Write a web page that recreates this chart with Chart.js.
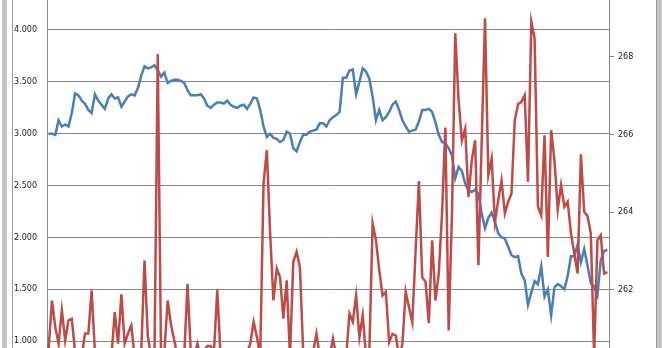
<!DOCTYPE html>
<html>
<head>
<meta charset="utf-8">
<script src="https://cdn.jsdelivr.net/npm/chart.js@4/dist/chart.umd.min.js"></script>
<style>
  html, body { margin: 0; padding: 0; background: #fff; overflow: hidden; }
  #wrap { position: relative; width: 662px; height: 348px; }
  canvas { position: absolute; left: 0; top: 0; }
  .frame { position: absolute; top: 0; height: 348px; }
</style>
</head>
<body>
<div id="wrap">
  <canvas id="chart" width="662" height="348"></canvas>
  <div class="frame" style="left:2px;width:5px;background:#c4c4c4"></div>
  <div class="frame" style="left:12px;width:1px;background:#9a9a9a"></div>
  <div class="frame" style="left:656px;width:1px;background:#9a9a9a"></div>
  <div class="frame" style="left:657px;width:5px;background:#c4c4c4"></div>
</div>
<script>
// series on the left axis (blue)
const blueValues = [
  3.00, 3.00, 2.99, 3.13, 3.07, 3.09, 3.07, 3.20, 3.39, 3.37,
  3.32, 3.29, 3.23, 3.20, 3.38, 3.32, 3.28, 3.24, 3.34, 3.38,
  3.34, 3.35, 3.26, 3.31, 3.36, 3.38, 3.37, 3.44, 3.56, 3.65,
  3.63, 3.64, 3.66, 3.61, 3.55, 3.59, 3.49, 3.51, 3.52, 3.52,
  3.51, 3.49, 3.42, 3.37, 3.37, 3.37, 3.38, 3.34, 3.27, 3.25,
  3.28, 3.30, 3.30, 3.29, 3.32, 3.28, 3.26, 3.25, 3.27, 3.28,
  3.24, 3.29, 3.35, 3.34, 3.23, 3.07, 2.97, 3.00, 2.96, 2.95,
  2.92, 2.94, 3.02, 3.00, 2.86, 2.83, 2.92, 2.99, 2.99, 3.02,
  3.03, 3.04, 3.10, 3.10, 3.07, 3.13, 3.16, 3.18, 3.21, 3.54,
  3.54, 3.61, 3.62, 3.38, 3.50, 3.63, 3.60, 3.53, 3.36, 3.13,
  3.23, 3.13, 3.16, 3.21, 3.28, 3.31, 3.23, 3.13, 3.07, 3.02,
  3.03, 3.04, 3.12, 3.23, 3.23, 3.24, 3.21, 3.11, 2.99, 2.92,
  2.91, 2.86, 2.79, 2.57, 2.68, 2.64, 2.52, 2.45, 2.44, 2.46,
  2.42, 2.23, 2.09, 2.19, 2.24, 2.15, 2.04, 2.00, 1.99, 1.91,
  1.83, 1.81, 1.82, 1.65, 1.59, 1.35, 1.47, 1.58, 1.55, 1.72,
  1.43, 1.50, 1.25, 1.52, 1.55, 1.53, 1.50, 1.63, 1.82, 1.82,
  1.93, 1.76, 1.89, 1.73, 1.56, 1.53, 1.44, 1.78, 1.87, 1.88
];

// series on the right axis (red)
const redValues = [
  260.50, 261.73, 261.05, 260.62, 261.48, 260.70, 261.22, 261.26, 260.40, 260.20,
  260.30, 260.88, 260.88, 261.99, 260.40, 260.20, 260.30, 260.20, 260.40, 260.30,
  261.43, 260.62, 261.89, 260.62, 260.88, 261.09, 260.30, 260.20, 260.40, 262.76,
  260.81, 260.30, 260.20, 268.07, 260.30, 260.40, 261.73, 261.11, 260.70, 260.30,
  260.20, 260.30, 262.16, 260.40, 260.30, 260.62, 260.30, 260.45, 260.56, 260.56,
  260.40, 262.01, 260.30, 260.30, 260.20, 260.20, 260.30, 260.20, 260.30, 260.30,
  260.40, 260.62, 261.18, 260.79, 260.30, 264.74, 265.60, 263.45, 261.73, 262.55,
  262.33, 261.26, 262.25, 260.30, 262.72, 262.98, 262.59, 260.40, 260.20, 260.20,
  260.40, 260.88, 260.30, 260.20, 260.30, 260.30, 260.75, 260.30, 260.20, 260.30,
  260.30, 261.39, 261.18, 261.86, 260.79, 261.35, 260.30, 260.40, 263.71, 263.28,
  262.51, 261.86, 261.95, 260.66, 260.87, 260.83, 260.30, 260.60, 261.96, 261.55,
  261.17, 263.00, 264.80, 262.33, 262.21, 261.15, 263.28, 261.73, 262.42, 263.97,
  266.18, 260.96, 263.97, 268.60, 266.88, 265.85, 266.15, 264.39, 265.34, 265.85,
  262.64, 265.85, 268.99, 264.95, 265.38, 263.75, 264.31, 264.82, 263.97, 264.27,
  264.48, 266.37, 266.78, 266.84, 267.01, 264.78, 268.90, 268.47, 264.14, 263.92,
  265.98, 262.85, 266.11, 265.34, 264.07, 264.70, 264.14, 264.27, 263.45, 262.94,
  262.42, 265.49, 264.01, 263.90, 263.45, 260.30, 263.28, 263.41, 262.42, 262.46
];

const leftTicks = [1, 1.5, 2, 2.5, 3, 3.5, 4];
const rightTicks = [262, 264, 266, 268];
const labels = blueValues.map((v, i) => i + 1);

const gridColor = '#878787';
const tickFont = { family: 'DejaVu Sans', size: 8 };

new Chart(document.getElementById('chart'), {
  type: 'line',
  data: {
    labels: labels,
    datasets: [
      {
        label: 'red',
        data: redValues,
        yAxisID: 'y2',
        borderColor: '#be4b48',
        borderWidth: 2.5,
        pointRadius: 0,
        order: 1
      },
      {
        label: 'blue',
        data: blueValues,
        yAxisID: 'y',
        borderColor: '#4a7ebb',
        borderWidth: 2.5,
        pointRadius: 0,
        order: 2
      }
    ]
  },
  options: {
    responsive: false,
    animation: false,
    devicePixelRatio: 1,
    layout: { padding: 0 },
    plugins: { legend: { display: false }, tooltip: { enabled: false } },
    scales: {
      x: { type: 'category', display: false, offset: true },
      y: {
        position: 'left',
        min: 0.935,
        max: 4.289,
        afterBuildTicks: s => { s.ticks = leftTicks.map(v => ({ value: v })); },
        afterFit: s => { s.width = 47; s.paddingTop = 0; s.paddingBottom = 0; },
        ticks: { font: tickFont, color: '#1a1a1a', padding: 10, callback: v => v.toFixed(3) },
        grid: { color: gridColor, drawTicks: false },
        border: { color: gridColor }
      },
      y2: {
        position: 'right',
        min: 260.508,
        max: 269.458,
        afterBuildTicks: s => { s.ticks = rightTicks.map(v => ({ value: v })); },
        afterFit: s => { s.width = 53; s.paddingTop = 0; s.paddingBottom = 0; },
        ticks: { font: tickFont, color: '#1a1a1a', padding: 4, callback: v => String(v) },
        grid: { drawOnChartArea: false, color: gridColor, tickLength: 5 },
        border: { color: gridColor }
      }
    }
  }
});
</script>
</body>
</html>
